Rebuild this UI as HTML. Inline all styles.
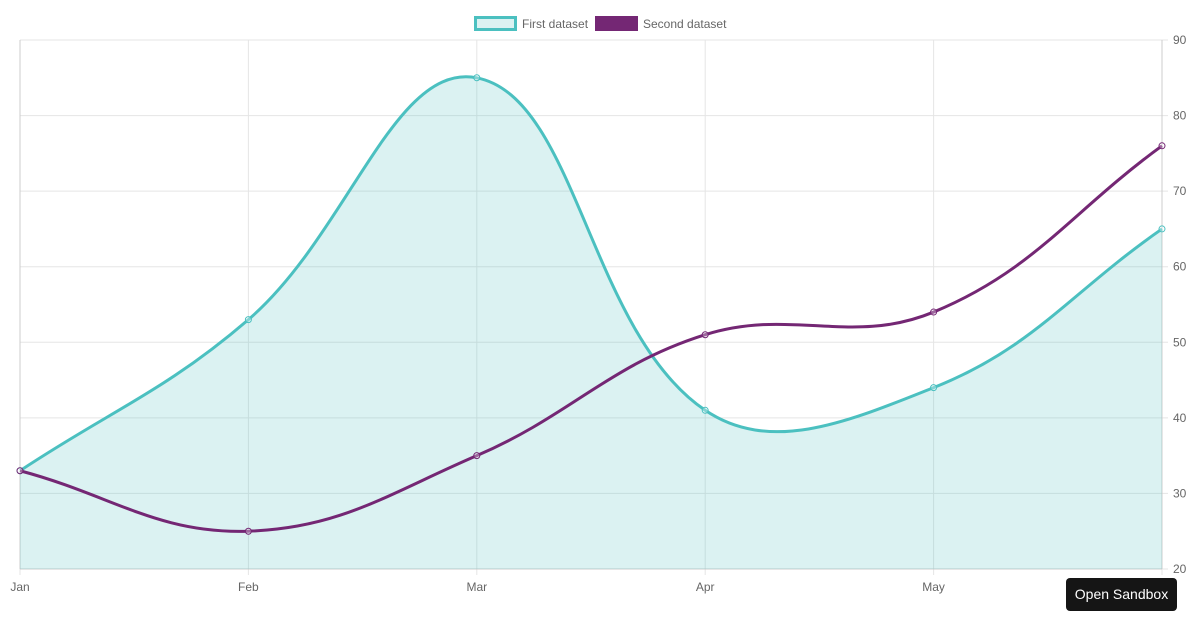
<!DOCTYPE html>
<html><head><meta charset="utf-8"><style>
body{margin:0;background:#fff;width:1200px;height:630px;overflow:hidden;font-family:"Liberation Sans",sans-serif;}
#btn{position:absolute;left:1066px;top:578px;width:111px;height:33px;background:#151515;color:#fff;border-radius:4px;font-size:14px;line-height:33px;text-align:center;}
</style></head><body>
<svg id="chart" width="1200" height="630" style="position:absolute;left:0;top:0" font-family="Liberation Sans, sans-serif"></svg>
<div id="btn">Open Sandbox</div>
<script>
const categories=["Jan","Feb","Mar","Apr","May","Jun"];
const firstValues=[33,53,85,41,44,65];
const secondValues=[33,25,35,51,54,76];
const yTicks=[20,30,40,50,60,70,80,90];
const L=20,R=1162,T=40,B=569,yMin=20,yMax=90;
const X=i=>L+i*(R-L)/(categories.length-1);
const Y=v=>B-(v-yMin)*(B-T)/(yMax-yMin);
const svg=document.getElementById('chart');
const NS='http://www.w3.org/2000/svg';
function mk(tag,attrs,parent){const e=document.createElementNS(NS,tag);for(const k in attrs)e.setAttribute(k,attrs[k]);(parent||svg).appendChild(e);return e;}
// grid
yTicks.forEach(v=>{
 const g=mk('line',{x1:L,x2:R+6,y1:Y(v),y2:Y(v),stroke:'#e5e5e5','stroke-width':1});
 
 
 const t=mk('text',{x:R+11,y:Y(v)+4,'font-size':12,fill:'#666'});
 t.textContent=v;
 
 
});
categories.forEach((c,i)=>{
 const g=mk('line',{x1:X(i),x2:X(i),y1:T,y2:B+6,stroke:'#e5e5e5','stroke-width':1});
 
 
 const t=mk('text',{x:X(i),y:B+22,'font-size':12,fill:'#666','text-anchor':'middle'});
 t.textContent=c;
 
 
});
mk('line',{x1:L,x2:L,y1:T,y2:B,stroke:'#ccc'});
mk('line',{x1:R,x2:R,y1:T,y2:B,stroke:'#ccc'});
mk('line',{x1:L,x2:R,y1:B,y2:B,stroke:'#ccc'});
function pathFor(vals){
 const p=vals.map((v,i)=>({x:X(i),y:Y(v)}));const t=0.4;
 const cps=p.map((c,i)=>{const pr=p[i-1]||c,nx=p[i+1]||c;
  const d01=Math.hypot(c.x-pr.x,c.y-pr.y),d12=Math.hypot(nx.x-c.x,nx.y-c.y);
  let s01=d01/(d01+d12)||0,s12=d12/(d01+d12)||0;const fa=t*s01,fb=t*s12;
  const cl=v=>Math.max(T,Math.min(B,v));
  return{px:c.x-fa*(nx.x-pr.x),py:cl(c.y-fa*(nx.y-pr.y)),nx:c.x+fb*(nx.x-pr.x),ny:cl(c.y+fb*(nx.y-pr.y))};});
 let d='M'+p[0].x+','+p[0].y;
 for(let i=1;i<p.length;i++)d+=` C${cps[i-1].nx},${cps[i-1].ny} ${cps[i].px},${cps[i].py} ${p[i].x},${p[i].y}`;
 return {d,p};
}
const f=pathFor(firstValues);
const area=mk('path',{d:f.d+` L${R},${B} L${L},${B} Z`,fill:'rgba(75,192,192,0.2)'});


[[firstValues,'#4bc0c0','first-dataset'],[secondValues,'#742774','second-dataset']].forEach(([vals,col,name])=>{
 const r=pathFor(vals);
 const l=mk('path',{d:r.d,fill:'none',stroke:col,'stroke-width':3});
 
 
 r.p.forEach(pt=>{const c=mk('circle',{cx:pt.x,cy:pt.y,r:3,fill:'rgba(255,255,255,0.3)',stroke:col,'stroke-width':1});
  
  });
});
// legend
const lg=mk('g',{});


mk('rect',{x:475.5,y:17.5,width:40,height:12,fill:'#dbf2f2',stroke:'#4bc0c0','stroke-width':3},lg);
const t1=mk('text',{x:522,y:28,'font-size':12,fill:'#666'},lg);t1.textContent='First dataset';


mk('rect',{x:595,y:16,width:43,height:15,fill:'#742774'},lg);
const t2=mk('text',{x:643,y:28,'font-size':12,fill:'#666'},lg);t2.textContent='Second dataset';


</script>
</body></html>
